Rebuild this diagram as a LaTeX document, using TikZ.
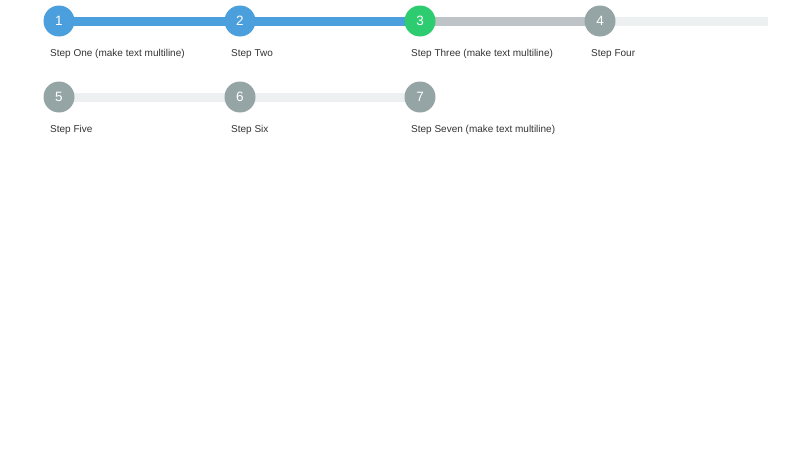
\documentclass[tikz,border=0pt]{standalone}
\usepackage{fontspec}
\setmainfont{Liberation Sans}
\usetikzlibrary{backgrounds}
\definecolor{stepblue}{HTML}{4A9FDC}
\definecolor{stepgreen}{HTML}{2ECC71}
\definecolor{stepgray}{HTML}{95A5A6}
\definecolor{barmid}{HTML}{BDC3C7}
\definecolor{barlight}{HTML}{ECF0F1}
\definecolor{labeltext}{HTML}{333333}
\tikzset{
  stepdot/.style={circle, fill=#1, minimum size=31pt, inner sep=0pt,
    text=white, font=\fontsize{13.5}{16}\selectfont},
  steplabel/.style={anchor=base west, inner sep=0pt, text=labeltext,
    font=\fontsize{10}{12}\selectfont},
  stepbar/.style={draw=#1, line width=9pt},
}
\begin{document}
\begin{tikzpicture}[x=1pt, y=-1pt]
  \useasboundingbox (0,0) rectangle (800,450);
  % first row
  \foreach \n/\x/\c in {1/59/stepblue, 2/240/stepblue, 3/420/stepgreen, 4/600/stepgray}
    \node[stepdot=\c] (s\n) at (\x,21) {\n};
  \coordinate (e4) at (768,21);
  % second row
  \foreach \n/\x in {5/59, 6/240, 7/420}
    \node[stepdot=stepgray] (s\n) at (\x,97) {\n};
  % labels
  \node[steplabel] (l1) at (50,56) {Step One (make text multiline)};
  \node[steplabel] (l2) at (231,56) {Step Two};
  \node[steplabel] (l3) at (411,56) {Step Three (make text multiline)};
  \node[steplabel] (l4) at (591,56) {Step Four};
  \node[steplabel] (l5) at (50,132) {Step Five};
  \node[steplabel] (l6) at (231,132) {Step Six};
  \node[steplabel] (l7) at (411,132) {Step Seven (make text multiline)};
  % bars behind the dots
  \begin{scope}[on background layer]
    \draw[stepbar=stepblue] (s1.center) -- (s2.center);
    \draw[stepbar=stepblue] (s2.center) -- (s3.center);
    \draw[stepbar=barmid] (s3.center) -- (s4.center);
    \draw[stepbar=barlight] (s4.center) -- (e4);
    \draw[stepbar=barlight] (s5.center) -- (s6.center);
    \draw[stepbar=barlight] (s6.center) -- (s7.center);
  \end{scope}
\end{tikzpicture}
\end{document}
